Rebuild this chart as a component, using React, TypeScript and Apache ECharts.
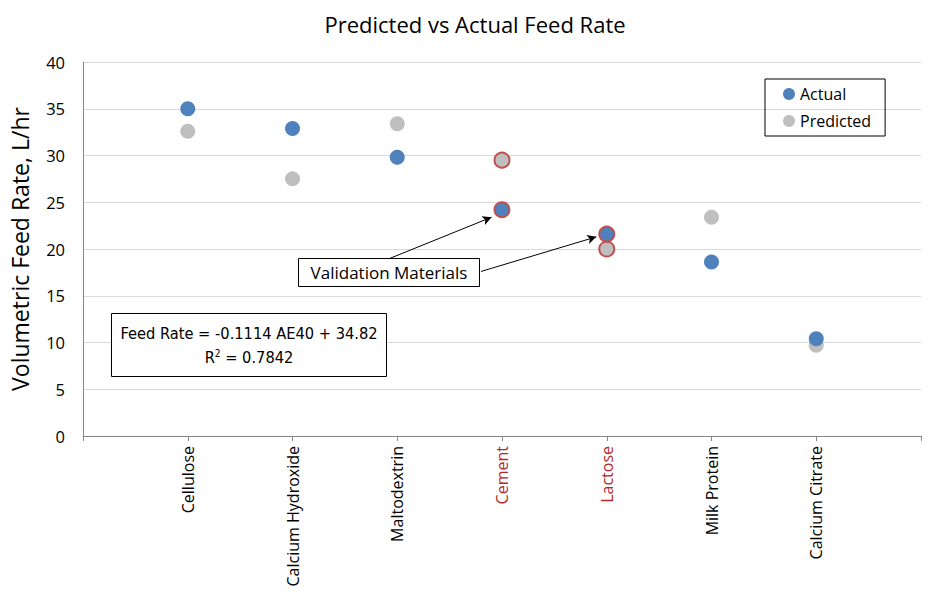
import React, { useEffect, useRef } from "react";
import * as echarts from "echarts";

const categories = [
  "Cellulose",
  "Calcium Hydroxide",
  "Maltodextrin",
  "Cement",
  "Lactose",
  "Milk Protein",
  "Calcium Citrate",
];
const validationCategories = ["Cement", "Lactose"];
const actualValues = [35.0, 32.9, 29.8, 24.2, 21.6, 18.6, 10.4];
const predictedValues = [32.6, 27.5, 33.4, 29.5, 20.0, 23.4, 9.7];
const yTicks = { min: 0, max: 40, interval: 5 };
// annotation arrows (data coordinates): start -> end
const arrowStarts = [
  [2.93, 19.0],
  [3.8, 17.6],
];
const arrowEnds = [
  [3.9, 23.4],
  [4.9, 21.3],
];

const FONT = "'Open Sans', 'DejaVu Sans', sans-serif";
const NARROW = "'Liberation Sans Narrow', 'DejaVu Sans Condensed', sans-serif";
const BLUE = "#4F81BD";
const GRAY = "#BFBFBF";
const RED = "#B3282D";

function makePoints(values: number[], color: string) {
  return values.map((v, i) => {
    const isVal = validationCategories.includes(categories[i]);
    return {
      value: [i + 1, v],
      itemStyle: isVal
        ? { color, opacity: 1, borderColor: "#C0504D", borderWidth: 2 }
        : { color, opacity: 1 },
    };
  });
}

export default function App() {
  const ref = useRef<HTMLDivElement>(null);
  useEffect(() => {
    if (!ref.current) return;
    const chart = echarts.init(ref.current, null, { renderer: "svg" });
    const option: any = {
      animation: false,
      backgroundColor: "#fff",
      textStyle: { fontFamily: FONT },
      title: {
        text: "Predicted vs Actual Feed Rate",
        left: "center",
        top: 8,
        textStyle: { fontFamily: FONT, fontSize: 22, fontWeight: "normal", color: "#000" },
      },
      grid: { left: 81, right: 29, top: 62, bottom: 156 },
      legend: {
        orient: "vertical",
        left: 765,
        top: 79,
        borderColor: "#000",
        borderWidth: 1,
        padding: [7, 14, 7, 18],
        itemWidth: 12,
        itemHeight: 12,
        itemGap: 11,
        icon: "circle",
        textStyle: { fontFamily: FONT, fontSize: 16, color: "#000" },
        data: ["Actual", "Predicted"],
      },
      xAxis: {
        type: "value",
        min: 0,
        max: 8,
        interval: 1,
        splitLine: { show: false },
        axisLine: { lineStyle: { color: "#868686", width: 1 } },
        axisTick: { show: true, length: 5, lineStyle: { color: "#868686" } },
        axisLabel: {
          rotate: 90,
          margin: 10,
          fontFamily: FONT,
          fontSize: 16,
          color: "#000",
          formatter: (v: number) => {
            const name = categories[v - 1];
            if (!name) return "";
            return validationCategories.includes(name) ? `{r|${name}}` : name;
          },
          rich: { r: { color: RED, fontFamily: FONT, fontSize: 16 } },
        },
      },
      yAxis: {
        type: "value",
        min: yTicks.min,
        max: yTicks.max,
        interval: yTicks.interval,
        name: "Volumetric Feed Rate, L/hr",
        nameLocation: "middle",
        nameGap: 52,
        nameTextStyle: { fontFamily: FONT, fontSize: 23, color: "#000" },
        axisLine: { show: true, lineStyle: { color: "#868686" } },
        axisTick: { show: false },
        splitLine: { lineStyle: { color: "#D9D9D9" } },
        axisLabel: { fontFamily: FONT, fontSize: 16.5, color: "#000", margin: 18 },
      },
      series: [
        {
          name: "Actual",
          type: "scatter",
          symbolSize: 15,
          itemStyle: { color: BLUE, opacity: 1 },
          data: makePoints(actualValues, BLUE),
          z: 3,
          markLine: {
            silent: true,
            symbol: ["none", "arrow"],
            symbolSize: [7, 9],
            label: { show: false },
            lineStyle: { color: "#000", width: 1, type: "solid", opacity: 1 },
            data: arrowStarts.map((s, i) => [
              { coord: s },
              { coord: arrowEnds[i] },
            ]),
          },
        },
        {
          name: "Predicted",
          type: "scatter",
          symbolSize: 15,
          itemStyle: { color: GRAY, opacity: 1 },
          data: makePoints(predictedValues, GRAY),
          z: 2,
        },
      ],
      graphic: [
        {
          type: "rect",
          shape: { x: 298.5, y: 258.5, width: 181, height: 28 },
          style: { fill: "#fff", stroke: "#000", lineWidth: 1 },
          z: 100,
        },
        {
          type: "text",
          x: 389,
          y: 272,
          style: {
            text: "Validation Materials",
            fontFamily: FONT,
            fontSize: 17,
            fill: "#000",
            align: "center",
            verticalAlign: "middle",
          },
          z: 101,
        },
        {
          type: "rect",
          shape: { x: 111.5, y: 313.5, width: 275, height: 63 },
          style: { fill: "#fff", stroke: "#000", lineWidth: 1 },
          z: 100,
        },
        {
          type: "text",
          x: 249,
          y: 333,
          style: {
            text: "Feed Rate = -0.1114 AE40 + 34.82",
            fontFamily: NARROW,
            fontSize: 16.3,
            fill: "#000",
            align: "center",
            verticalAlign: "middle",
          },
          z: 101,
        },
        {
          type: "text",
          x: 249,
          y: 357,
          style: {
            text: "R{s|2} = 0.7842",
            fontFamily: NARROW,
            fontSize: 16.3,
            fill: "#000",
            align: "center",
            verticalAlign: "middle",
            rich: {
              s: {
                fontSize: 10,
                verticalAlign: "top",
                padding: [0, 0, 8, 0],
                fontFamily: NARROW,
              },
            },
          },
          z: 101,
        },
      ],
    };
    chart.setOption(option);
    return () => chart.dispose();
  }, []);
  return (
    <div
      ref={ref}
      style={{ position: "fixed", left: 0, top: 0, width: 950, height: 592 }}
    />
  );
}
